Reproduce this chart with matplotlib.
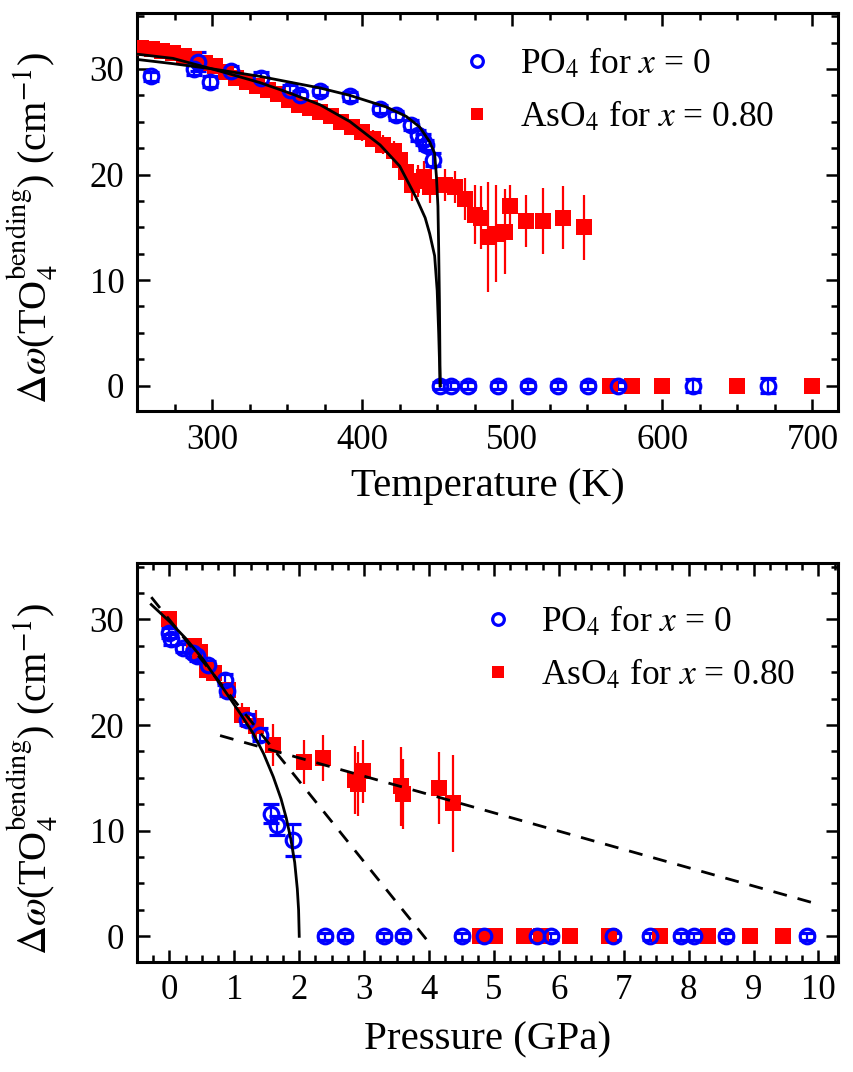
import matplotlib
matplotlib.use("Agg")
import matplotlib.pyplot as plt
from matplotlib.ticker import MultipleLocator

plt.rcParams['font.family'] = ['Liberation Serif', 'DejaVu Serif']
plt.rcParams['mathtext.fontset'] = 'stix'

BLUE = '#0000ff'
RED = '#ff0000'

# ---- top panel: temperature ----
t_po4 = [259.5, 287.7, 290.5, 298.8, 312.8, 332.8, 351.7, 358.3, 371.7, 391.7,
         411.7, 422.3, 432.8, 437.2, 440.5, 442.8, 447.2]
w_po4_t = [29.3, 30.0, 30.7, 28.8, 29.8, 29.1, 28.0, 27.5, 27.9, 27.4,
           26.2, 25.6, 24.7, 23.7, 23.3, 22.8, 21.4]
e_po4_t = [0.4, 0.6, 0.9, 0.5, 0.5, 0.6, 0.5, 0.4, 0.4, 0.4,
           0.4, 0.4, 0.5, 0.5, 0.5, 0.5, 0.6]
t_po4_zero = [451.7, 459.5, 470.5, 490.5, 510.5, 530.5, 550.5, 570.5, 620.5, 670.5]
e_po4_tzero = [0.3, 0.3, 0.3, 0.3, 0.3, 0.3, 0.3, 0.3, 0.6, 0.7]

t_aso4 = [253, 260, 267, 274, 281, 288, 295, 302, 309, 316, 323, 330, 337, 344,
          351, 358, 365, 372, 379, 386, 393, 400, 407, 414, 421, 425, 429, 433,
          437, 441, 445, 455, 461.7, 468.3, 475, 479.5, 484, 489.5, 495, 498.3,
          509.5, 520.5, 534, 547.7]
w_aso4_t = [32.0, 31.9, 31.7, 31.5, 31.2, 30.9, 30.6, 30.3, 29.7, 29.1, 28.8, 28.4,
            28.0, 27.6, 27.1, 26.6, 26.3, 25.9, 25.5, 25.0, 24.5, 24.0, 23.4, 22.8,
            22.2, 21.4, 20.2, 19.0, 19.4, 19.8, 18.8, 19.0, 18.8, 17.7, 16.2, 15.9,
            14.1, 14.4, 14.6, 17.0, 15.6, 15.6, 15.9, 15.0]
e_aso4_t = [0.5, 0.5, 0.5, 0.5, 0.5, 0.5, 0.5, 0.5, 0.5, 0.5, 0.5, 0.5,
            0.6, 0.6, 0.6, 0.6, 0.6, 0.6, 0.7, 0.7, 0.7, 0.8, 0.8, 0.9,
            1.0, 1.2, 1.5, 1.5, 1.5, 1.5, 1.5, 1.5, 1.5, 2.0, 2.8, 3.0,
            5.2, 4.6, 4.0, 2.0, 2.5, 3.1, 3.0, 3.1]
t_aso4_zero = [565, 580, 600, 650, 700]

# fit curves
fit_t_po4 = [250, 273.9, 300.5, 331.7, 371.7, 391.7, 416, 429.4, 438.3, 445,
             448.3, 449.5, 450.5, 451, 451.5, 452]
fit_w_po4 = [30.9, 30.5, 30.0, 29.3, 28.2, 27.5, 26.4, 25.5, 24.5, 23.1,
             22.0, 19.8, 17.0, 13.0, 8.0, 0.0]
fit_t_aso4 = [250, 274, 300, 332, 352, 372, 392, 412, 425, 436, 442, 445,
              448.3, 450, 451, 452]
fit_w_aso4 = [31.4, 31.0, 30.0, 28.7, 27.7, 26.6, 25.0, 22.8, 20.8, 17.8, 15.9, 14.4,
              12.3, 9.0, 5.0, 0.0]

# ---- bottom panel: pressure ----
p_po4 = [0.0, 0.03, 0.21, 0.36, 0.42, 0.59, 0.85, 0.88, 1.19, 1.39, 1.57, 1.65, 1.90]
w_po4_p = [28.7, 28.1, 27.3, 26.8, 26.5, 25.7, 24.3, 23.2, 20.5, 19.1, 11.6, 10.5, 9.1]
e_po4_p = [0.5, 0.5, 0.4, 0.4, 0.4, 0.4, 0.5, 0.5, 0.5, 0.6, 0.9, 0.9, 1.5]
p_po4_zero = [2.4, 2.7, 3.3, 3.6, 4.5, 4.85, 5.67, 5.88, 6.83, 7.4, 7.88, 8.08, 8.57, 9.82]

p_aso4 = [0.0, 0.38, 0.47, 0.58, 0.68, 0.9, 1.12, 1.33, 1.6, 2.07, 2.37, 2.86,
          2.9, 2.98, 3.57, 3.6, 4.16, 4.37]
w_aso4_p = [30.0, 27.5, 26.9, 25.2, 24.9, 23.3, 20.9, 19.9, 18.1, 16.5, 16.9, 14.8,
            14.4, 15.6, 14.2, 13.5, 14.0, 12.6]
e_aso4_p = [0.6, 0.6, 0.6, 0.6, 0.7, 0.8, 1.2, 1.5, 2.0, 2.1, 2.2, 3.2,
            3.0, 3.0, 3.75, 3.3, 3.4, 4.6]
p_aso4_zero = [4.78, 5.02, 5.47, 5.72, 6.17, 6.78, 7.56, 8.3, 8.94, 9.45]

fit_p_po4 = [-0.28, 0.0, 0.25, 0.52, 0.88, 1.1, 1.29, 1.45, 1.6, 1.72, 1.8,
             1.87, 1.93, 1.97, 1.99, 2.0]
fit_w_po4_p = [31.4, 29.8, 28.2, 26.2, 23.0, 21.0, 19.2, 17.3, 15.1, 13.0, 11.2,
               9.2, 7.0, 4.5, 2.5, 0.0]
dash1_p = [-0.28, 4.0]
dash1_w = [32.1, -0.6]
dash2_p = [0.78, 9.9]
dash2_w = [19.0, 3.2]

LEGEND_PO4 = 'PO$_4$ for $x$ = 0'
LEGEND_ASO4 = 'AsO$_4$ for $x$ = 0.80'
YLABEL = r'$\Delta\omega$(TO$_4^{\mathrm{bending}}$) (cm$^{-1}$)'


def style_axes(ax, major_x, minor_x):
    ax.xaxis.set_major_locator(MultipleLocator(major_x))
    ax.xaxis.set_minor_locator(MultipleLocator(minor_x))
    ax.yaxis.set_major_locator(MultipleLocator(10))
    ax.yaxis.set_minor_locator(MultipleLocator(2.5))
    ax.tick_params(which='both', direction='in', top=True, right=True,
                   labelsize=25, width=1.8, pad=9)
    ax.tick_params(which='major', length=9)
    ax.tick_params(which='minor', length=5)
    for s in ax.spines.values():
        s.set_linewidth(2.2)
    ax.set_ylim(-2.4, 35.3)
    ax.set_ylabel(YLABEL, fontsize=29)
    # anchor is the right edge of the rotated label
    ax.yaxis.set_label_coords(-0.11, 0.46)


def draw_points(ax, x, y, err, zx, zerr, color, marker, label, zero_y=0.0):
    kw = dict(ls='none', ecolor=color, elinewidth=1.6, capsize=6, capthick=1.6)
    if marker == 'o':
        mk = dict(marker='o', mfc='none', mec=color, mew=2.3, ms=10.5)
    else:
        mk = dict(marker='s', mfc=color, mec=color, mew=0, ms=11.5)
    ax.errorbar(x, y, yerr=err, zorder=3, label=label, **kw, **mk)
    ax.errorbar(zx, [zero_y] * len(zx), yerr=zerr, zorder=3, **kw, **mk)


fig = plt.figure(figsize=(8.54, 10.72), dpi=100)
ax1 = fig.add_axes([0.1604, 0.6166, 0.8208, 0.3713])
ax2 = fig.add_axes([0.1604, 0.1029, 0.8208, 0.3716])

# top
draw_points(ax1, t_aso4, w_aso4_t, e_aso4_t, t_aso4_zero, [0.2] * len(t_aso4_zero),
            RED, 's', LEGEND_ASO4)
draw_points(ax1, t_po4, w_po4_t, e_po4_t, t_po4_zero, e_po4_tzero,
            BLUE, 'o', LEGEND_PO4)
ax1.plot(fit_t_po4, fit_w_po4, color='black', lw=2, zorder=4)
ax1.plot(fit_t_aso4, fit_w_aso4, color='black', lw=2, zorder=4)
ax1.set_xlim(250, 717)
style_axes(ax1, 100, 25)
ax1.set_xlabel('Temperature (K)', fontsize=29.5, labelpad=8)

# bottom
draw_points(ax2, p_aso4, w_aso4_p, e_aso4_p, p_aso4_zero, [0.2] * len(p_aso4_zero),
            RED, 's', LEGEND_ASO4)
draw_points(ax2, p_po4, w_po4_p, e_po4_p, p_po4_zero, [0.3] * len(p_po4_zero),
            BLUE, 'o', LEGEND_PO4)
ax2.plot(fit_p_po4, fit_w_po4_p, color='black', lw=2, zorder=4)
ax2.plot(dash1_p, dash1_w, color='black', lw=2, ls=(0, (5, 4)), zorder=4)
ax2.plot(dash2_p, dash2_w, color='black', lw=2, ls=(0, (5, 4)), zorder=4)
ax2.set_xlim(-0.5, 10.3)
style_axes(ax2, 1, 0.25)
ax2.set_xlabel('Pressure (GPa)', fontsize=29.5, labelpad=10)

legend_anchor = {ax1: (0.44, 0.952), ax2: (0.47, 0.932)}
for ax in (ax1, ax2):
    h, l = ax.get_legend_handles_labels()
    order = [l.index(LEGEND_PO4), l.index(LEGEND_ASO4)]
    hs = []
    for i in order:
        hs.append(h[i][0])
    ax.legend(hs, [l[i] for i in order], loc='upper left', frameon=False,
              fontsize=25.5, handlelength=1.0, handletextpad=0.7,
              borderaxespad=0, labelspacing=0.52, markerscale=0.8,
              bbox_to_anchor=legend_anchor[ax])

fig.savefig('out.png', dpi=100)
